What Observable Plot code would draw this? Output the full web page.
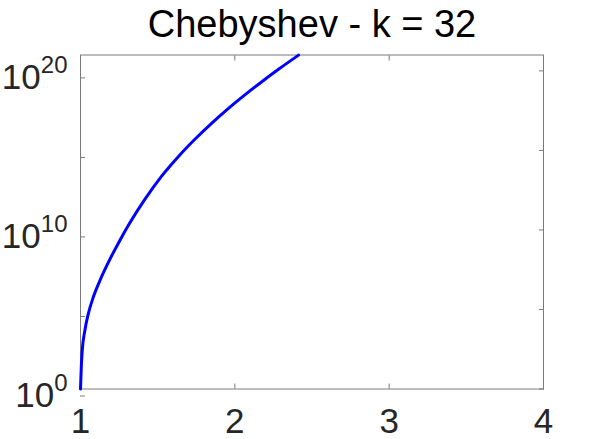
<!DOCTYPE html>
<html><head><meta charset="utf-8">
<script src="https://cdn.jsdelivr.net/npm/d3@7"></script>
<script src="https://cdn.jsdelivr.net/npm/@observablehq/plot@0.6"></script>
<style>html,body{margin:0;padding:0;background:#fff} svg{display:block}</style>
</head><body><div id="chart"></div>
<script>
const title = "Chebyshev - k = 32";
const xs = [1.000, 1.005, 1.011, 1.028, 1.050, 1.082, 1.125, 1.190, 1.255, 1.320, 1.419, 1.527, 1.635, 1.743, 1.851, 1.959, 2.067, 2.175, 2.283, 2.413];
const ys = [1, 23, 250, 4.6e3, 5.1e4, 5.6e5, 6.3e6, 1.4e8, 2.2e9, 2.8e10, 8.9e11, 2.5e13, 4.2e14, 5.2e15, 5.2e16, 4.4e17, 3.2e18, 2.1e19, 1.26e20, 9.8e20];
const xTicks = [1, 2, 3, 4];
const yTicks = [1, 1e5, 1e10, 1e15, 1e20];
const yLabelTicks = [1, 1e10, 1e20];

const data = xs.map((x, i) => ({x, y: ys[i]}));
const textColor = "#262626";
const axisColor = "#7a7a7a";
const yFmt = d => yLabelTicks.includes(d) ? `10^${Math.round(Math.log10(d))}` : "";

const plot = Plot.plot({
  width: 600, height: 439,
  marginLeft: 80, marginRight: 57, marginTop: 54.5, marginBottom: 50.5,
  style: {fontFamily: "'Liberation Sans', Arial, Helvetica, sans-serif", background: "#fff", color: textColor},
  x: {type: "linear", domain: [1, 4]},
  y: {type: "log", domain: [1, 1e21]},
  marks: [
    Plot.frame({stroke: axisColor}),
    Plot.axisX({anchor: "bottom", ticks: xTicks, tickSize: -5, tickPadding: 24, stroke: axisColor, fontSize: 35, label: null, tickFormat: d => String(d)}),
    Plot.axisX({anchor: "top", ticks: xTicks, tickSize: -5, stroke: axisColor, label: null, tickFormat: () => ""}),
    Plot.axisY({anchor: "left", ticks: yTicks, tickSize: -5, tickPadding: 18, dy: 7, stroke: axisColor, fontSize: 35, label: null, tickFormat: yFmt}),
    Plot.axisY({anchor: "right", ticks: yTicks, tickSize: -5, stroke: axisColor, label: null, tickFormat: () => ""}),
    Plot.line(data, {x: "x", y: "y", stroke: "#0000ff", strokeWidth: 3, curve: "monotone-x"}),
    Plot.text([title], {frameAnchor: "top", lineAnchor: "bottom", dy: -17.8, fontSize: 38, fill: "#000"})
  ]
});

d3.select(plot).selectAll('g[aria-label="y-axis tick label"] text').each(function() {
  const t = this.textContent;
  if (!t.includes("^")) return;
  const [b, e] = t.split("^");
  const s = d3.select(this);
  s.text(null);
  s.append("tspan").text(b);
  s.append("tspan").attr("dy", -16).attr("font-size", 24).text(e);
});

document.getElementById("chart").appendChild(plot);
</script>
</body></html>
